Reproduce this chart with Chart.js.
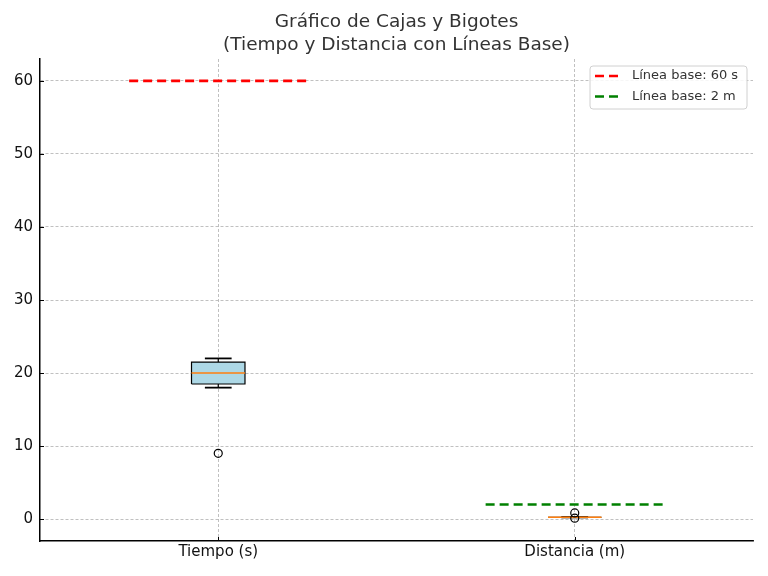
<!DOCTYPE html>
<html>
<head>
<meta charset="utf-8">
<script src="https://cdn.jsdelivr.net/npm/chart.js@4.4.1/dist/chart.umd.min.js"></script>
<style>
  html, body { margin: 0; padding: 0; background: #fff; }
  #caja { width: 768px; height: 576px; }
</style>
</head>
<body>
<div id="caja"><canvas id="grafico"></canvas></div>
<script>
// datos del gráfico de cajas
const categorias = ['Tiempo (s)', 'Distancia (m)'];
const posiciones = [1, 2];
const minimos = [18, 0.25];
const cuartil1 = [18.5, 0.25];
const medianas = [20, 0.25];
const cuartil3 = [21.5, 0.25];
const maximos = [22, 0.25];
const atipicos = [[9], [0.85, 0.12]];

// líneas base
const valoresBase = [60, 2];
const etiquetasBase = ['Línea base: 60 s', 'Línea base: 2 m'];
const coloresBase = ['#ff0000', '#008000'];

const ticksY = [0, 10, 20, 30, 40, 50, 60];
const tituloGrafico = ['Gráfico de Cajas y Bigotes', '(Tiempo y Distancia con Líneas Base)'];

const anchoCaja = 0.15;   // ancho de la caja en unidades del eje x
const anchoBase = 0.25;   // media longitud de la línea base
const fuente = 'DejaVu Sans';

const datasets = [];

// segmento simple (bigotes, remates, mediana)
function segmento(puntos, color, ancho, orden) {
  return {
    type: 'line', order: orden, data: puntos,
    borderColor: color, borderWidth: ancho, pointRadius: 0, fill: false
  };
}

posiciones.forEach((p, i) => {
  const izq = p - anchoCaja / 2, der = p + anchoCaja / 2;
  const rIzq = p - anchoCaja / 4, rDer = p + anchoCaja / 4;
  // relleno de la caja
  datasets.push({
    type: 'line', order: 10,
    data: [{x: izq, y: cuartil3[i]}, {x: der, y: cuartil3[i]}],
    fill: {value: cuartil1[i]}, backgroundColor: '#add8e6',
    borderWidth: 0, pointRadius: 0
  });
  // borde de la caja
  datasets.push(segmento(
    [{x: izq, y: cuartil1[i]}, {x: izq, y: cuartil3[i]}, {x: der, y: cuartil3[i]},
     {x: der, y: cuartil1[i]}, {x: izq, y: cuartil1[i]}], '#000', 1.2, 6));
  // bigotes
  datasets.push(segmento([{x: p, y: cuartil3[i]}, {x: p, y: maximos[i]}], '#000', 1.2, 6));
  datasets.push(segmento([{x: p, y: cuartil1[i]}, {x: p, y: minimos[i]}], '#000', 1.2, 6));
  // remates
  datasets.push(segmento([{x: rIzq, y: maximos[i]}, {x: rDer, y: maximos[i]}], '#000', 1.8, 6));
  datasets.push(segmento([{x: rIzq, y: minimos[i]}, {x: rDer, y: minimos[i]}], '#000', 1.8, 6));
  // mediana
  datasets.push(segmento([{x: izq, y: medianas[i]}, {x: der, y: medianas[i]}], '#ff7f0e', 1.4, 4));
  // valores atípicos
  datasets.push({
    type: 'scatter', order: 2,
    data: atipicos[i].map(v => ({x: p, y: v})),
    pointStyle: 'circle', pointRadius: 4, pointBorderWidth: 1.2,
    pointBorderColor: '#000', pointBackgroundColor: 'rgba(0,0,0,0)'
  });
  // línea base
  datasets.push({
    type: 'line', order: 1,
    data: [{x: p - anchoBase, y: valoresBase[i]}, {x: p + anchoBase, y: valoresBase[i]}],
    borderColor: coloresBase[i], borderWidth: 2.6, borderDash: [9, 5],
    pointRadius: 0, fill: false
  });
});

// título centrado sobre el área, marcas hacia dentro y leyenda estilo matplotlib
const extras = {
  id: 'extras',
  afterDraw(chart) {
    const ctx = chart.ctx, area = chart.chartArea;
    const sx = chart.scales.x, sy = chart.scales.y;
    ctx.save();

    // marcas de los ejes (hacia dentro)
    ctx.strokeStyle = '#000';
    ctx.lineWidth = 1;
    ctx.beginPath();
    ticksY.forEach(v => {
      const y = Math.round(sy.getPixelForValue(v)) + 0.5;
      ctx.moveTo(area.left, y);
      ctx.lineTo(area.left + 4, y);
    });
    posiciones.forEach(v => {
      const x = Math.round(sx.getPixelForValue(v)) + 0.5;
      ctx.moveTo(x, area.bottom);
      ctx.lineTo(x, area.bottom - 4);
    });
    ctx.stroke();

    ctx.fillStyle = '#333';
    ctx.font = '18.5px "' + fuente + '"';
    ctx.textAlign = 'center';
    ctx.textBaseline = 'middle';
    const cx = (area.left + area.right) / 2;
    tituloGrafico.forEach((t, i) => ctx.fillText(t, cx, 22 + i * 23));

    // cuadro de la leyenda
    const lx = 590, ly = 66, lw = 157, lh = 43, r = 3;
    ctx.beginPath();
    ctx.moveTo(lx + r, ly);
    ctx.arcTo(lx + lw, ly, lx + lw, ly + lh, r);
    ctx.arcTo(lx + lw, ly + lh, lx, ly + lh, r);
    ctx.arcTo(lx, ly + lh, lx, ly, r);
    ctx.arcTo(lx, ly, lx + lw, ly, r);
    ctx.closePath();
    ctx.fillStyle = 'rgba(255,255,255,0.85)';
    ctx.fill();
    ctx.strokeStyle = '#d0d0d0';
    ctx.lineWidth = 1;
    ctx.stroke();

    ctx.font = '13px "' + fuente + '"';
    ctx.textAlign = 'left';
    etiquetasBase.forEach((t, i) => {
      const y = 76 + i * 20.5;
      ctx.beginPath();
      ctx.setLineDash([9, 5]);
      ctx.strokeStyle = coloresBase[i];
      ctx.lineWidth = 2.6;
      ctx.moveTo(595, y);
      ctx.lineTo(620, y);
      ctx.stroke();
      ctx.setLineDash([]);
      ctx.fillStyle = '#333';
      ctx.fillText(t, 632, y);
    });
    ctx.restore();
  }
};

const grid = {
  color: '#b0b0b0', lineWidth: 0.8, drawTicks: false
};

new Chart(document.getElementById('grafico'), {
  type: 'scatter',
  data: {datasets: datasets},
  options: {
    responsive: true,
    maintainAspectRatio: false,
    animation: false,
    layout: {padding: {top: 59, right: 15, left: 0, bottom: 0}},
    plugins: {
      legend: {display: false},
      title: {display: false},
      tooltip: {enabled: false}
    },
    scales: {
      x: {
        type: 'linear', min: 0.5, max: 2.5,
        afterBuildTicks: (s) => { s.ticks = posiciones.map(v => ({value: v})); },
        afterFit: (s) => { s.height = 35; },
        ticks: {
          padding: 2, color: '#111',
          font: {family: fuente, size: 15},
          callback: (v) => categorias[posiciones.indexOf(v)] || ''
        },
        grid: grid,
        border: {display: true, color: '#000', width: 1.5, dash: [3, 2]}
      },
      y: {
        min: -3, max: 63,
        afterBuildTicks: (s) => { s.ticks = ticksY.map(v => ({value: v})); },
        afterFit: (s) => { s.width = 40; },
        ticks: {
          padding: 7, color: '#111',
          font: {family: fuente, size: 15}
        },
        grid: grid,
        border: {display: true, color: '#000', width: 1.5, dash: [3, 2]}
      }
    }
  },
  plugins: [extras]
});
</script>
</body>
</html>
